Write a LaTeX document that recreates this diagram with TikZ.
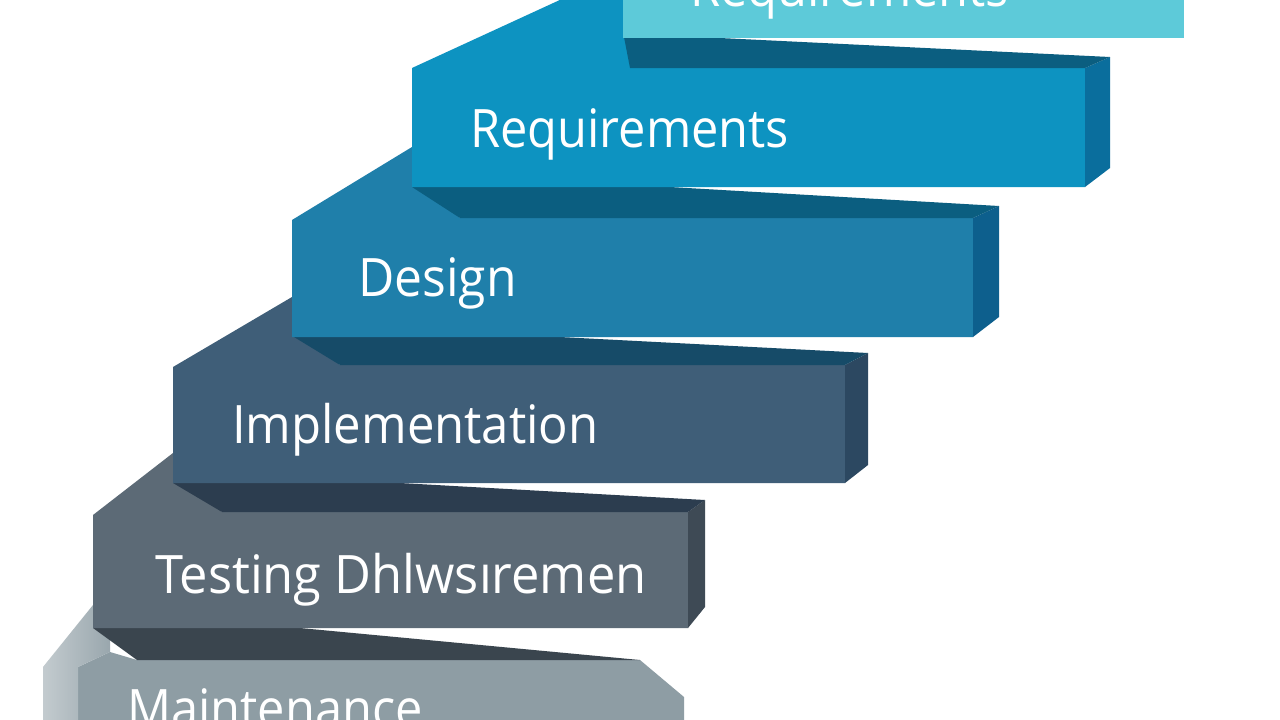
\documentclass[tikz,border=0pt]{standalone}
\usepackage{fontspec}
\setmainfont{Open Sans}
\definecolor{cTop}{HTML}{5DCAD9}
\definecolor{cReq}{HTML}{0D93C1}
\definecolor{cReqS}{HTML}{0A6E9D}
\definecolor{cReqB}{HTML}{0B5E80}
\definecolor{cDes}{HTML}{1F7FAA}
\definecolor{cDesS}{HTML}{0D5F8D}
\definecolor{cDesB}{HTML}{164B68}
\definecolor{cImp}{HTML}{3F5E78}
\definecolor{cImpS}{HTML}{2C4861}
\definecolor{cImpB}{HTML}{2C3D4F}
\definecolor{cTst}{HTML}{5C6A76}
\definecolor{cTstS}{HTML}{3E4A55}
\definecolor{cTstB}{HTML}{3A454E}
\definecolor{cMnt}{HTML}{8E9DA4}
\definecolor{cMntL}{HTML}{C3CBCF}
\newcommand{\narrowtext}[2]{\scalebox{#1}[1]{#2}}
\tikzset{
  lbl/.style={text=white, anchor=base west, inner sep=0pt,
    font=\fontsize{53}{60}\selectfont}
}
\begin{document}
\begin{tikzpicture}[x=1pt,y=-1pt]
\useasboundingbox (0,0) rectangle (1280,720);
\clip (0,0) rectangle (1280,720);
\fill[white] (0,0) rectangle (1280,720);
% Maintenance
\fill[cMnt] (78,720) -- (78,667) -- (110,652) -- (137,660) -- (640,660) -- (684,697) -- (684,720) -- cycle;
\shade[left color=cMntL, right color=cMnt!90!white] (43,720) -- (43,667) -- (93,605) -- (110,625) -- (110,652) -- (78,667) -- (78,720) -- cycle;
\fill[cTstB] (93,628) -- (300,628) -- (640,660) -- (137,660) -- cycle;
% Testing
\fill[cTst] (93,628) -- (93,515) -- (173,453) -- (195,440) -- (195,490) -- (222,512) -- (688,512) -- (688,628) -- cycle;
\fill[cTstS] (688,512) -- (705,500) -- (705,607) -- (688,628) -- cycle;
\fill[cImpB] (173,483) -- (400,483) -- (705,500) -- (688,512) -- (222,512) -- cycle;
% Implementation
\fill[cImp] (173,483) -- (173,367) -- (292,297) -- (320,280) -- (320,345) -- (340,365) -- (845,365) -- (845,483) -- cycle;
\fill[cImpS] (845,365) -- (868,353) -- (868,465) -- (845,483) -- cycle;
\fill[cDesB] (294,337) -- (560,337) -- (868,353) -- (845,365) -- (340,365) -- cycle;
% Design
\fill[cDes] (292,337) -- (292,220) -- (412,147) -- (440,130) -- (440,200) -- (460,218) -- (973,218) -- (973,337) -- cycle;
\fill[cDesS] (973,218) -- (999,206) -- (999,317) -- (973,337) -- cycle;
\fill[cReqB] (412,187) -- (670,187) -- (999,206) -- (973,218) -- (460,218) -- cycle;
% Requirements
\fill[cReq] (412,187) -- (412,68) -- (575,-7) -- (640,-7) -- (640,45) -- (630,68) -- (1085,68) -- (1085,187) -- cycle;
\fill[cReqS] (1085,68) -- (1110,57) -- (1110,168) -- (1085,187) -- cycle;
\fill[cReqB] (624,37) -- (720,38) -- (1110,57) -- (1085,68) -- (630,68) -- cycle;
% top block
\fill[cTop] (623,-10) rectangle (1184,38);
% labels
\node[lbl] (t1) at (690,6) {\narrowtext{0.92}{Requirements}};
\node[lbl] (t2) at (470,147) {\narrowtext{0.92}{Requirements}};
\node[lbl] (t3) at (358,296) {\narrowtext{0.94}{Design}};
\node[lbl] (t4) at (232,443) {\narrowtext{0.925}{Implementation}};
\node[lbl] (t5) at (155,593) {\narrowtext{0.955}{Testing Dhlwsıremen}};
\node[lbl] (t6) at (127,727) {\narrowtext{0.92}{Maintenance}};
\end{tikzpicture}
\end{document}
